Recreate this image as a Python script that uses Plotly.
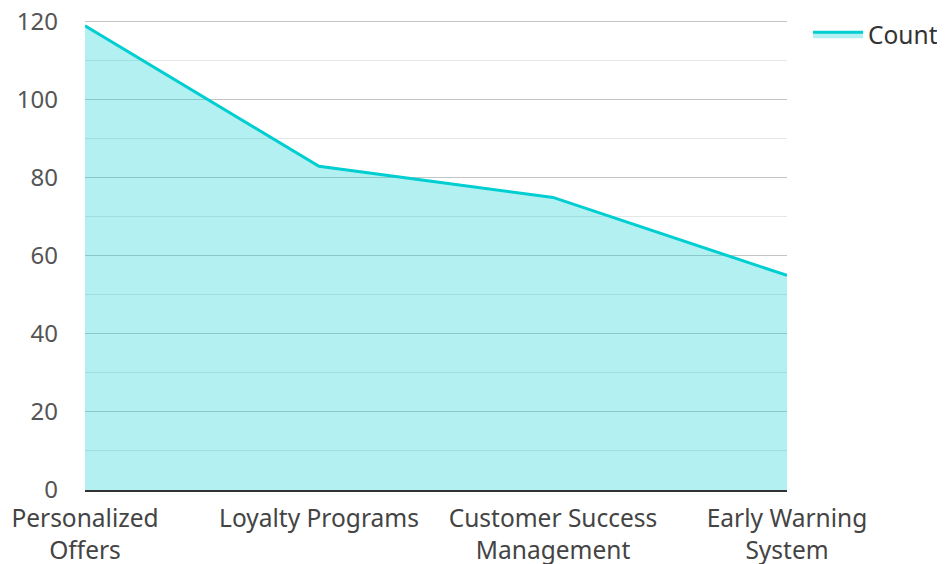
import plotly.graph_objects as go

categories = ["Personalized<br>Offers", "Loyalty Programs", "Customer Success<br>Management", "Early Warning<br>System"]
counts = [119, 83, 75, 55]
y_ticks = [0, 20, 40, 60, 80, 100, 120]

fig = go.Figure()
fig.add_trace(go.Scatter(
    x=categories, y=counts, name="Count", mode="lines",
    line=dict(color="#00CED1", width=3),
    fill="tozeroy", fillcolor="rgba(0,206,209,0.3)",
))

# page body has an 8px margin, so the figure is 8px smaller and margins are shifted
fig.update_layout(
    width=937, height=556,
    margin=dict(l=77, r=158, t=10, b=74, autoexpand=False),
    paper_bgcolor="white", plot_bgcolor="white",
    font=dict(family="Noto Sans", size=24, color="#444"),
    showlegend=True,
    legend=dict(x=1.03, y=1.013, xanchor="left", yanchor="top", itemwidth=50,
                font=dict(size=24.5, color="#333"), bgcolor="rgba(0,0,0,0)"),
    xaxis=dict(range=[0, 3], showgrid=False, showline=True, linecolor="#333",
               linewidth=2, ticks="", automargin=False, ticklabelstandoff=6,
               tickfont=dict(size=24.5, color="#444"), zeroline=False),
    yaxis=dict(range=[0, 121], tickvals=y_ticks, showgrid=True, gridcolor="#c4c4c4",
               gridwidth=1, zeroline=False, showline=False, ticks="",
               automargin=False, ticklabelstandoff=26, ticklabeloverflow="allow",
               tickfont=dict(size=24, color="#555"),
               minor=dict(dtick=10, showgrid=True, gridcolor="#e6e6e6", gridwidth=1)),
)

fig.write_html("out.html")
